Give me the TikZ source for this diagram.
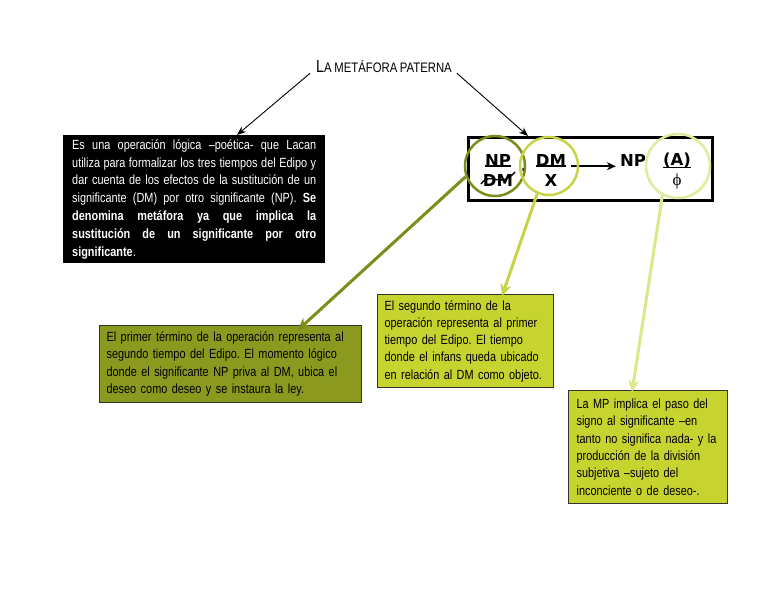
\documentclass[tikz,border=0pt]{standalone}
\usepackage{fontspec}
\setmainfont{Liberation Sans}[FakeStretch=0.82,WordSpace=0.85]
\newfontfamily\formfont{DejaVu Sans}
\newfontfamily\grfont{Liberation Serif}
\usetikzlibrary{arrows.meta,calc}
\definecolor{olive}{HTML}{8B9A1E}
\definecolor{lime}{HTML}{C7D32E}
\definecolor{circA}{HTML}{7E8C1A}
\definecolor{circB}{HTML}{C8D448}
\definecolor{circC}{HTML}{E2EA9E}
\definecolor{lineC}{HTML}{DDE68A}
\tikzset{
  txt/.style={font=\frenchspacing\fontsize{13.3}{17.3}\selectfont, align=left, anchor=north west, draw=black!80, line width=1.2pt},
  form/.style={font=\formfont\bfseries\fontsize{16.5}{16.5}\selectfont, inner sep=0pt},
  ring/.style={circle, line width=2.5pt, minimum size=#1, inner sep=0pt},
  thinarr/.style={line width=0.9pt, -{Stealth[length=9pt,width=7pt]}},
  fatarr/.style={line width=3pt, -{Stealth[length=12pt,width=11pt]}}
}
\begin{document}
\begin{tikzpicture}[x=1pt,y=-1pt]
\useasboundingbox[fill=white] (0,0) rectangle (768,594);

% title
\node[inner sep=0pt] (title) at (384,67) {{\fontsize{17.5}{16}\selectfont L}{\fontsize{13.8}{13}\selectfont A METÁFORA PATERNA}};

% black box
\node[anchor=north west, fill=black, text=white, text width=244pt, inner xsep=9pt, inner ysep=4pt,
      minimum height=128pt, align=justify, font=\frenchspacing\fontsize{13.3}{17.8}\selectfont] (def) at (63,135)
 {Es una operación lógica –poética- que Lacan\linebreak
 utiliza para formalizar los tres tiempos del Edipo y\linebreak
 dar cuenta de los efectos de la sustitución de un\linebreak
 significante (DM) por otro significante (NP). \textbf{Se}\linebreak
 \textbf{denomina metáfora ya que implica la}\linebreak
 \textbf{sustitución de un significante por otro}\linebreak
 \textbf{significante}.};

% formula box
\node[anchor=north west, draw=black, line width=2.5pt, minimum width=244pt, minimum height=63pt, inner sep=0pt] (fbox) at (467,136) {};

\node[form] (np1) at (498,160) {NP};
\node[form] (dm1) at (498,180) {DM};
\draw[line width=1.6pt] (np1.south west) -- (np1.south east);
\draw[line width=1.4pt] (481,184) .. controls (491,170) and (499,190) .. (515,172);
\node[form] (dot) at (524,170) {.};
\node[form] (dm2) at (551,160) {DM};
\node[form] (x2) at (551,180) {X};
\draw[line width=1.6pt] (dm2.south west) -- (dm2.south east);
\node[form] (np3) at (633,160) {NP};
\node[form] (a3) at (677,160) {(A)};
\draw[line width=1.6pt] (a3.south west) -- (a3.south east);
\node[inner sep=0pt, font=\grfont\fontsize{17}{17}\selectfont] (phi) at (677,181) {ϕ};
\draw[line width=1.5pt, -{Stealth[length=9pt,width=8pt]}] ($(dm2.south east)+(5,0)$) -- ($(np3.south west)+(-4,0)$);

% rings
\node[ring=60pt, draw=circA] (c1) at (495,166) {};
\node[ring=58pt, draw=circB] (c2) at (549,166) {};
\node[ring=64pt, draw=circC] (c3) at (678,166) {};

% explanation boxes
\node[txt, fill=olive, text width=248pt, inner xsep=7pt, minimum height=77pt] (b1) at (99,325)
 {El primer término de la operación representa al\\
 segundo tiempo del Edipo. El momento lógico\\
 donde el significante NP priva al DM, ubica el\\
 deseo como deseo y se instaura la ley.};
\node[txt, fill=lime, text width=162pt, inner xsep=7pt, minimum height=93pt] (b2) at (377,294)
 {El segundo término de la\\
 operación representa al primer\\
 tiempo del Edipo. El tiempo\\
 donde el infans queda ubicado\\
 en relación al DM como objeto.};
\node[txt, fill=lime, text width=143pt, inner xsep=8pt, minimum height=113pt] (b3) at (568,390)
 {La MP implica el paso del\\
 signo al significante –en\\
 tanto no significa nada- y la\\
 producción de la división\\
 subjetiva –sujeto del\\
 inconciente o de deseo-.};

% title arrows
\draw[thinarr] ($(title.south west)+(-6,0)$) -- (237,0 |- def.north);
\draw[thinarr] ($(title.south east)+(5,0)$) -- (528,0 |- fbox.north);

% colored arrows
\draw[fatarr, draw=circA, fill=circA] (c1.200) -- ([yshift=-5pt]298,0 |- b1.north);
\draw[fatarr, draw=circB, fill=circB] (c2.247) -- ([yshift=-2pt]502,0 |- b2.north);
\draw[fatarr, draw=lineC, fill=lineC] (c3.242) -- ([yshift=-2pt]632,0 |- b3.north);
\end{tikzpicture}
\end{document}
